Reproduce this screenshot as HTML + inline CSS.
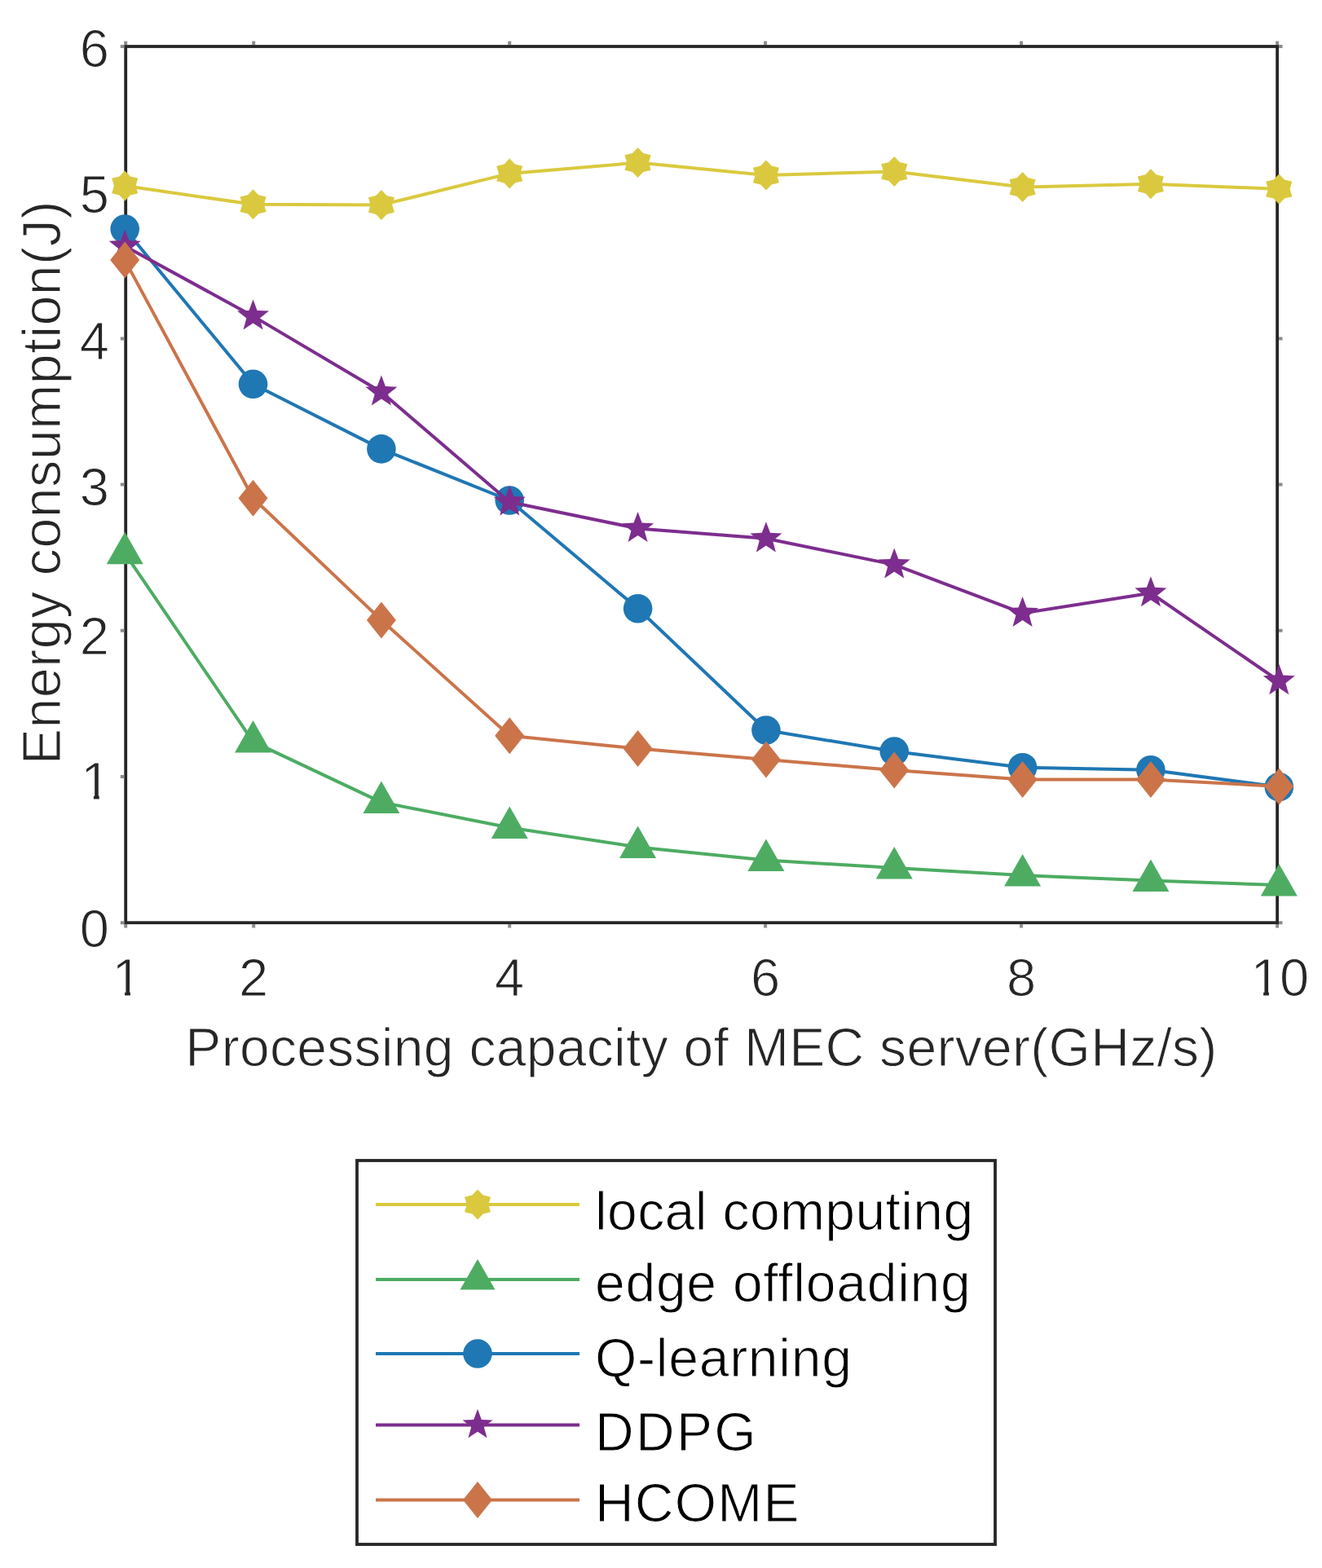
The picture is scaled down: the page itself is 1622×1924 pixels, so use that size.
<!DOCTYPE html>
<html><head><meta charset="utf-8"><title>Energy consumption vs processing capacity</title><style>html,body{margin:0;padding:0;background:#fff;}svg{display:block;}text{font-family:"Liberation Sans",Arial,Helvetica,sans-serif;stroke:#fff;stroke-width:1.1px;}</style></head><body>
<svg width="1622" height="1924" viewBox="0 0 1622 1924">
<defs><clipPath id="c1x"><rect x="117.5" y="1141.5" width="120.0" height="74.4"/><rect x="153.1" y="1215.5" width="6.8" height="10"/></clipPath><clipPath id="c10x"><rect x="1514.5" y="1141.5" width="120.0" height="74.4"/><rect x="1550.1" y="1215.5" width="6.8" height="10"/><rect x="1568.0" y="1100.0" width="80.0" height="150.0"/></clipPath><clipPath id="c1y"><rect x="79.3" y="901.0" width="120.0" height="74.4"/><rect x="114.9" y="975.0" width="6.8" height="10"/></clipPath></defs>
<rect width="1622" height="1924" fill="#fff"/>
<rect x="154.2" y="57.0" width="1412.9" height="1075.2" fill="none" stroke="#262626" stroke-width="3.8"/>
<path d="M154.2 1134.1v4.5M154.2 55.1v-4.5M311.2 1134.1v4.5M311.2 55.1v-4.5M625.2 1134.1v4.5M625.2 55.1v-4.5M939.1 1134.1v4.5M939.1 55.1v-4.5M1253.1 1134.1v4.5M1253.1 55.1v-4.5M1567.1 1134.1v4.5M1567.1 55.1v-4.5M152.3 1132.2h-4.5M1569.0 1132.2h4.5M152.3 953.0h-4.5M1569.0 953.0h4.5M152.3 773.8h-4.5M1569.0 773.8h4.5M152.3 594.6h-4.5M1569.0 594.6h4.5M152.3 415.4h-4.5M1569.0 415.4h4.5M152.3 236.2h-4.5M1569.0 236.2h4.5M152.3 57.0h-4.5M1569.0 57.0h4.5" stroke="#8c8c8c" stroke-width="4" fill="none"/>
<polyline points="153.2,228.0 310.5,250.8 467.9,251.4 625.2,212.9 782.6,199.6 939.9,215.0 1097.2,210.4 1254.6,229.6 1411.9,225.7 1569.3,231.9" fill="none" stroke="#DAC93E" stroke-width="4" stroke-linejoin="round"/>
<polygon points="153.2,209.5 159.9,216.5 169.2,218.8 166.5,228.0 169.2,237.2 159.9,239.5 153.2,246.5 146.5,239.5 137.2,237.2 139.9,228.0 137.2,218.8 146.5,216.5" fill="#DAC93E"/><polygon points="310.5,232.3 317.2,239.3 326.6,241.6 323.9,250.8 326.6,260.1 317.2,262.3 310.5,269.3 303.9,262.3 294.5,260.1 297.2,250.8 294.5,241.6 303.9,239.3" fill="#DAC93E"/><polygon points="467.9,232.9 474.5,239.9 483.9,242.2 481.2,251.4 483.9,260.6 474.5,262.9 467.9,269.9 461.2,262.9 451.9,260.6 454.6,251.4 451.9,242.2 461.2,239.9" fill="#DAC93E"/><polygon points="625.2,194.4 631.9,201.4 641.2,203.7 638.5,212.9 641.2,222.2 631.9,224.4 625.2,231.4 618.6,224.4 609.2,222.2 611.9,212.9 609.2,203.7 618.6,201.4" fill="#DAC93E"/><polygon points="782.6,181.1 789.2,188.1 798.6,190.3 795.9,199.6 798.6,208.8 789.2,211.1 782.6,218.1 775.9,211.1 766.5,208.8 769.2,199.6 766.5,190.3 775.9,188.1" fill="#DAC93E"/><polygon points="939.9,196.5 946.6,203.5 955.9,205.8 953.2,215.0 955.9,224.2 946.6,226.5 939.9,233.5 933.2,226.5 923.9,224.2 926.6,215.0 923.9,205.8 933.2,203.5" fill="#DAC93E"/><polygon points="1097.2,191.9 1103.9,198.9 1113.3,201.2 1110.6,210.4 1113.3,219.7 1103.9,221.9 1097.2,228.9 1090.6,221.9 1081.2,219.7 1083.9,210.4 1081.2,201.2 1090.6,198.9" fill="#DAC93E"/><polygon points="1254.6,211.1 1261.2,218.1 1270.6,220.3 1267.9,229.6 1270.6,238.8 1261.2,241.1 1254.6,248.1 1247.9,241.1 1238.6,238.8 1241.3,229.6 1238.6,220.3 1247.9,218.1" fill="#DAC93E"/><polygon points="1411.9,207.2 1418.6,214.2 1427.9,216.4 1425.2,225.7 1427.9,234.9 1418.6,237.2 1411.9,244.2 1405.3,237.2 1395.9,234.9 1398.6,225.7 1395.9,216.4 1405.3,214.2" fill="#DAC93E"/><polygon points="1569.3,213.4 1575.9,220.4 1585.3,222.7 1582.6,231.9 1585.3,241.2 1575.9,243.4 1569.3,250.4 1562.6,243.4 1553.2,241.2 1555.9,231.9 1553.2,222.7 1562.6,220.4" fill="#DAC93E"/>
<polyline points="153.2,678.8 310.5,910.1 467.9,984.4 625.2,1015.5 782.6,1039.4 939.9,1055.4 1097.2,1065.0 1254.6,1074.0 1411.9,1080.5 1569.3,1086.0" fill="none" stroke="#4DAC62" stroke-width="4" stroke-linejoin="round"/>
<polygon points="153.2,652.8 175.7,692.3 130.7,692.3" fill="#4DAC62"/><polygon points="310.5,884.1 333.0,923.6 288.0,923.6" fill="#4DAC62"/><polygon points="467.9,958.4 490.4,997.9 445.4,997.9" fill="#4DAC62"/><polygon points="625.2,989.5 647.7,1029.0 602.7,1029.0" fill="#4DAC62"/><polygon points="782.6,1013.4 805.1,1052.9 760.1,1052.9" fill="#4DAC62"/><polygon points="939.9,1029.4 962.4,1068.9 917.4,1068.9" fill="#4DAC62"/><polygon points="1097.2,1039.0 1119.7,1078.5 1074.7,1078.5" fill="#4DAC62"/><polygon points="1254.6,1048.0 1277.1,1087.5 1232.1,1087.5" fill="#4DAC62"/><polygon points="1411.9,1054.5 1434.4,1094.0 1389.4,1094.0" fill="#4DAC62"/><polygon points="1569.3,1060.0 1591.8,1099.5 1546.8,1099.5" fill="#4DAC62"/>
<polyline points="153.2,281.0 310.5,471.3 467.9,550.9 625.2,614.0 782.6,746.7 939.9,896.0 1097.2,922.0 1254.6,941.7 1411.9,944.8 1569.3,965.6" fill="none" stroke="#1F77B4" stroke-width="4" stroke-linejoin="round"/>
<circle cx="153.2" cy="281.0" r="17.8" fill="#1F77B4"/><circle cx="310.5" cy="471.3" r="17.8" fill="#1F77B4"/><circle cx="467.9" cy="550.9" r="17.8" fill="#1F77B4"/><circle cx="625.2" cy="614.0" r="17.8" fill="#1F77B4"/><circle cx="782.6" cy="746.7" r="17.8" fill="#1F77B4"/><circle cx="939.9" cy="896.0" r="17.8" fill="#1F77B4"/><circle cx="1097.2" cy="922.0" r="17.8" fill="#1F77B4"/><circle cx="1254.6" cy="941.7" r="17.8" fill="#1F77B4"/><circle cx="1411.9" cy="944.8" r="17.8" fill="#1F77B4"/><circle cx="1569.3" cy="965.6" r="17.8" fill="#1F77B4"/>
<polyline points="153.2,302.0 310.5,387.9 467.9,481.0 625.2,616.0 782.6,648.5 939.9,660.8 1097.2,692.9 1254.6,752.4 1411.9,727.7 1569.3,835.6" fill="none" stroke="#7D2D8E" stroke-width="4" stroke-linejoin="round"/>
<polygon points="153.2,281.5 158.3,295.0 172.7,295.7 161.4,304.7 165.2,318.6 153.2,310.6 141.2,318.6 145.0,304.7 133.7,295.7 148.1,295.0" fill="#7D2D8E"/><polygon points="310.5,367.4 315.6,380.9 330.0,381.6 318.7,390.6 322.6,404.5 310.5,396.5 298.5,404.5 302.4,390.6 291.0,381.6 305.5,380.9" fill="#7D2D8E"/><polygon points="467.9,460.5 472.9,474.0 487.4,474.7 476.1,483.7 479.9,497.6 467.9,489.6 455.8,497.6 459.7,483.7 448.4,474.7 462.8,474.0" fill="#7D2D8E"/><polygon points="625.2,595.5 630.3,609.0 644.7,609.7 633.4,618.7 637.3,632.6 625.2,624.6 613.2,632.6 617.0,618.7 605.7,609.7 620.2,609.0" fill="#7D2D8E"/><polygon points="782.6,628.0 787.6,641.5 802.1,642.2 790.7,651.2 794.6,665.1 782.6,657.1 770.5,665.1 774.4,651.2 763.1,642.2 777.5,641.5" fill="#7D2D8E"/><polygon points="939.9,640.3 945.0,653.8 959.4,654.5 948.1,663.5 951.9,677.4 939.9,669.4 927.9,677.4 931.7,663.5 920.4,654.5 934.8,653.8" fill="#7D2D8E"/><polygon points="1097.2,672.4 1102.3,685.9 1116.7,686.6 1105.4,695.6 1109.3,709.5 1097.2,701.5 1085.2,709.5 1089.1,695.6 1077.7,686.6 1092.2,685.9" fill="#7D2D8E"/><polygon points="1254.6,731.9 1259.6,745.4 1274.1,746.1 1262.8,755.1 1266.6,769.0 1254.6,761.0 1242.5,769.0 1246.4,755.1 1235.1,746.1 1249.5,745.4" fill="#7D2D8E"/><polygon points="1411.9,707.2 1417.0,720.7 1431.4,721.4 1420.1,730.4 1424.0,744.3 1411.9,736.3 1399.9,744.3 1403.7,730.4 1392.4,721.4 1406.9,720.7" fill="#7D2D8E"/><polygon points="1569.3,815.1 1574.3,828.6 1588.8,829.3 1577.4,838.3 1581.3,852.2 1569.3,844.2 1557.2,852.2 1561.1,838.3 1549.8,829.3 1564.2,828.6" fill="#7D2D8E"/>
<polyline points="153.2,319.1 310.5,611.2 467.9,760.9 625.2,902.8 782.6,918.5 939.9,932.0 1097.2,945.0 1254.6,956.4 1411.9,956.4 1569.3,964.9" fill="none" stroke="#CB744A" stroke-width="4" stroke-linejoin="round"/>
<polygon points="153.2,296.6 171.2,319.1 153.2,341.6 135.2,319.1" fill="#CB744A"/><polygon points="310.5,588.7 328.5,611.2 310.5,633.7 292.5,611.2" fill="#CB744A"/><polygon points="467.9,738.4 485.9,760.9 467.9,783.4 449.9,760.9" fill="#CB744A"/><polygon points="625.2,880.3 643.2,902.8 625.2,925.3 607.2,902.8" fill="#CB744A"/><polygon points="782.6,896.0 800.6,918.5 782.6,941.0 764.6,918.5" fill="#CB744A"/><polygon points="939.9,909.5 957.9,932.0 939.9,954.5 921.9,932.0" fill="#CB744A"/><polygon points="1097.2,922.5 1115.2,945.0 1097.2,967.5 1079.2,945.0" fill="#CB744A"/><polygon points="1254.6,933.9 1272.6,956.4 1254.6,978.9 1236.6,956.4" fill="#CB744A"/><polygon points="1411.9,933.9 1429.9,956.4 1411.9,978.9 1393.9,956.4" fill="#CB744A"/><polygon points="1569.3,942.4 1587.3,964.9 1569.3,987.4 1551.3,964.9" fill="#CB744A"/>
<text x="155.6" y="1221.5" font-size="65" fill="#262626" text-anchor="middle" clip-path="url(#c1x)">1</text>
<text x="311.2" y="1221.5" font-size="65" fill="#262626" text-anchor="middle">2</text>
<text x="625.2" y="1221.5" font-size="65" fill="#262626" text-anchor="middle">4</text>
<text x="939.1" y="1221.5" font-size="65" fill="#262626" text-anchor="middle">6</text>
<text x="1253.1" y="1221.5" font-size="65" fill="#262626" text-anchor="middle">8</text>
<text x="1534.5 1570" y="1221.5" font-size="65" fill="#262626" clip-path="url(#c10x)">10</text>
<text x="134.0" y="1161.5" font-size="65" fill="#262626" text-anchor="end">0</text>
<text x="135.5" y="981.0" font-size="65" fill="#262626" text-anchor="end" clip-path="url(#c1y)">1</text>
<text x="134.0" y="802.5" font-size="65" fill="#262626" text-anchor="end">2</text>
<text x="134.0" y="619.5" font-size="65" fill="#262626" text-anchor="end">3</text>
<text x="134.0" y="440.5" font-size="65" fill="#262626" text-anchor="end">4</text>
<text x="134.0" y="261.0" font-size="65" fill="#262626" text-anchor="end">5</text>
<text x="134.0" y="82.0" font-size="65" fill="#262626" text-anchor="end">6</text>
<text x="860.5" y="1307.5" font-size="66" fill="#262626" text-anchor="middle" letter-spacing="0.3">Processing capacity of MEC server(GHz/s)</text>
<text transform="translate(73.5,592) rotate(-90)" font-size="66" fill="#262626" text-anchor="middle" letter-spacing="0.65">Energy consumption(J)</text>
<rect x="438" y="1424" width="783" height="471" fill="#fff" stroke="#262626" stroke-width="3.8"/>
<line x1="461" y1="1478.0" x2="711" y2="1478.0" stroke="#DAC93E" stroke-width="4"/>
<polygon points="586.0,1459.5 592.7,1466.5 602.0,1468.8 599.3,1478.0 602.0,1487.2 592.7,1489.5 586.0,1496.5 579.3,1489.5 570.0,1487.2 572.7,1478.0 570.0,1468.8 579.3,1466.5" fill="#DAC93E"/>
<text x="730" y="1509.0" font-size="66" fill="#000" letter-spacing="0.40">local computing</text>
<line x1="461" y1="1570.0" x2="711" y2="1570.0" stroke="#4DAC62" stroke-width="4"/>
<polygon points="586.0,1545.0 607.5,1582.5 564.5,1582.5" fill="#4DAC62"/>
<text x="730" y="1597.0" font-size="66" fill="#000" letter-spacing="0.75">edge offloading</text>
<line x1="461" y1="1661.0" x2="711" y2="1661.0" stroke="#1F77B4" stroke-width="4"/>
<circle cx="586.0" cy="1661.0" r="17.8" fill="#1F77B4"/>
<text x="730" y="1689.0" font-size="66" fill="#000" letter-spacing="0.75">Q-learning</text>
<line x1="461" y1="1748.5" x2="711" y2="1748.5" stroke="#7D2D8E" stroke-width="4"/>
<polygon points="586.0,1729.0 590.8,1741.9 604.5,1742.5 593.8,1751.0 597.5,1764.3 586.0,1756.7 574.5,1764.3 578.2,1751.0 567.5,1742.5 581.2,1741.9" fill="#7D2D8E"/>
<text x="730" y="1779.5" font-size="66" fill="#000" letter-spacing="2.30">DDPG</text>
<line x1="461" y1="1840.5" x2="711" y2="1840.5" stroke="#CB744A" stroke-width="4"/>
<polygon points="586.0,1818.0 604.0,1840.5 586.0,1863.0 568.0,1840.5" fill="#CB744A"/>
<text x="730" y="1867.3" font-size="66" fill="#000" letter-spacing="1.20">HCOME</text>
</svg></body></html>
